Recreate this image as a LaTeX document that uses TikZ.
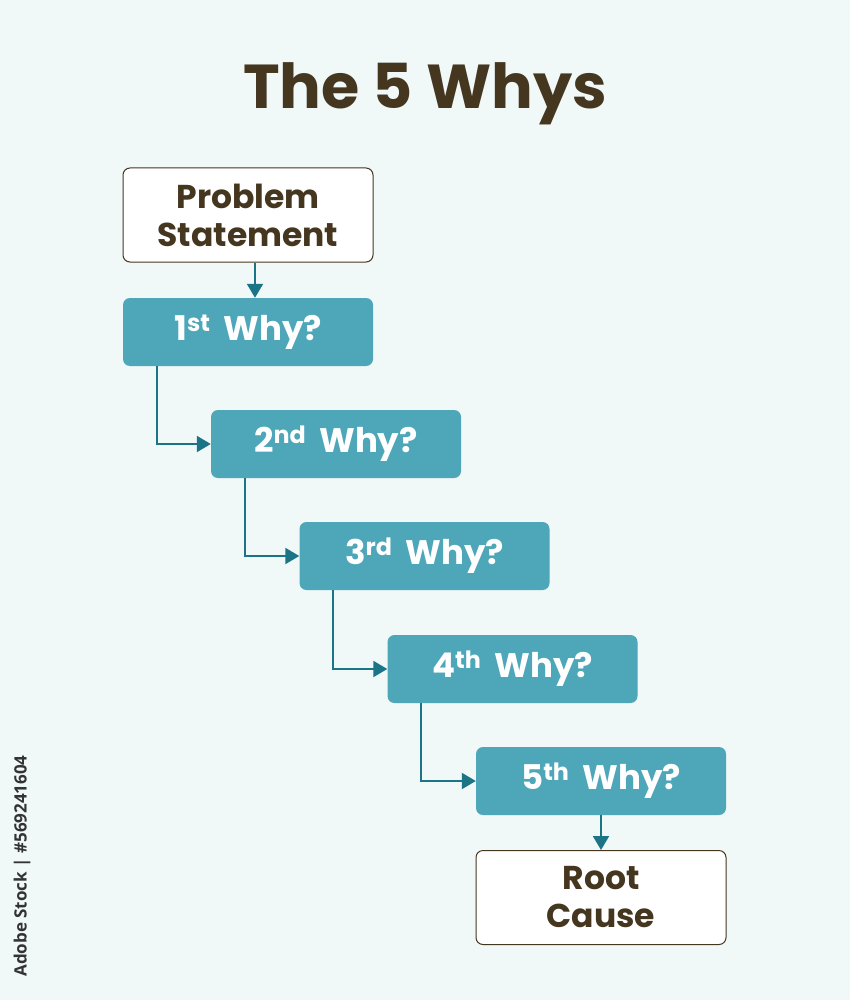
\documentclass[tikz,border=0pt]{standalone}
\usepackage{fontspec}
\setmainfont{Poppins}
\newfontfamily\wmfont{Open Sans}
\usetikzlibrary{arrows.meta}
\definecolor{bgc}{HTML}{F0F8F8}
\definecolor{boxteal}{HTML}{4EA6B9}
\definecolor{arrc}{HTML}{1C7487}
\definecolor{brn}{HTML}{45361F}
\begin{document}
\begin{tikzpicture}[x=1pt,y=-1pt,
  whybox/.style={fill=boxteal, rounded corners=7pt, minimum width=250pt, minimum height=68pt,
    text=white, font=\bfseries\fontsize{34}{40}\selectfont, inner sep=0pt},
  endbox/.style={fill=white, draw=brn, line width=1pt, rounded corners=7pt, minimum width=250pt,
    minimum height=94pt, text=brn, align=center, font=\bfseries\fontsize{33}{38}\selectfont, inner sep=0pt},
  conn/.style={draw=arrc, line width=2pt, -{Triangle[width=16pt,length=14pt]}}]
\fill[bgc] (0,0) rectangle (850,1000);
\useasboundingbox (0,0) rectangle (850,1000);
\node[text=brn, font=\bfseries\fontsize{62}{70}\selectfont] (title) at (425,94) {The 5 Whys};
\node[endbox] (ps) at (248,215) {Problem\\Statement};
\node[whybox] (w1) at (248,332) {1\textsuperscript{st}\, Why?};
\node[whybox] (w2) at (336,444) {2\textsuperscript{nd}\, Why?};
\node[whybox] (w3) at (424.5,556) {3\textsuperscript{rd}\, Why?};
\node[whybox] (w4) at (512.5,669) {4\textsuperscript{th}\, Why?};
\node[whybox] (w5) at (601,781) {5\textsuperscript{th}\, Why?};
\node[endbox] (rc) at (601,897.5) {Root\\Cause};
\draw[conn] ([xshift=7pt]ps.south) -- ([xshift=7pt]w1.north);
\draw[conn] ([xshift=34pt]w1.south west) |- (w2.west);
\draw[conn] ([xshift=34pt]w2.south west) |- (w3.west);
\draw[conn] ([xshift=34pt]w3.south west) |- (w4.west);
\draw[conn] ([xshift=34pt]w4.south west) |- (w5.west);
\draw[conn] (w5.south) -- (rc.north);
\node[rotate=90, text=black!80, font=\wmfont\fontsize{17}{19}\selectfont\bfseries] (wm) at (22,866) {Adobe Stock | \#569241604};
\end{tikzpicture}
\end{document}
